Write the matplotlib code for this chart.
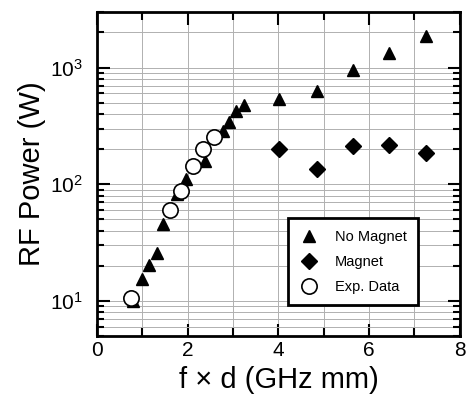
import numpy as np
import matplotlib.pyplot as plt
from matplotlib.ticker import LogLocator, MultipleLocator, NullFormatter

plt.rcParams['font.family'] = ['Liberation Sans', 'DejaVu Sans']

# No magnet (simulation)
nomag_x = [0.80, 0.99, 1.15, 1.32, 1.45, 1.76, 1.96, 2.38, 2.78, 2.91, 3.06, 3.24,
           4.01, 4.85, 5.64, 6.43, 7.25]
nomag_y = [10.0, 15.4, 20.3, 25.7, 45.5, 82, 110, 158, 284, 339, 421, 473,
           533, 635, 961, 1343, 1875]

# Magnet (simulation)
mag_x = [4.01, 4.85, 5.64, 6.43, 7.25]
mag_y = [200, 134, 211, 215, 184]

# Experimental data
exp_x = [0.75, 1.61, 1.85, 2.11, 2.33, 2.58]
exp_y = [10.6, 60, 87, 143, 200, 253]

fig = plt.figure(figsize=(4.74, 3.95), dpi=100)
ax = fig.add_axes([0.205, 0.149, 0.765, 0.821])

ax.plot(nomag_x, nomag_y, '^', color='black', ms=9, label='No Magnet', zorder=3)
ax.plot(mag_x, mag_y, 'D', color='black', ms=8, label='Magnet', zorder=3)
ax.plot(exp_x, exp_y, 'o', mfc='white', mec='black', mew=1.2, ms=11,
        label='Exp. Data', zorder=4)

ax.set_yscale('log')
ax.set_xlim(0, 8)
ax.set_ylim(5, 3000)
ax.xaxis.set_major_locator(MultipleLocator(2))
ax.xaxis.set_minor_locator(MultipleLocator(1))
ax.yaxis.set_major_locator(LogLocator(base=10))
ax.yaxis.set_minor_locator(LogLocator(base=10, subs=np.arange(2, 10)))
ax.yaxis.set_minor_formatter(NullFormatter())

ax.grid(True, which='both', color='#b0b0b0', lw=0.7)
ax.set_axisbelow(True)
for s in ax.spines.values():
    s.set_linewidth(2)
ax.tick_params(which='both', direction='in', top=True, right=True, width=1.5,
               labelsize=15)
ax.tick_params(which='major', length=9)
ax.tick_params(which='minor', length=5)
ax.tick_params(axis='x', which='minor', length=6)
ax.tick_params(axis='y', which='major', pad=10)

ax.set_xlabel('f × d (GHz mm)', fontsize=21, labelpad=4)
ax.set_ylabel('RF Power (W)', fontsize=21, labelpad=3)

leg = ax.legend(loc='upper left', bbox_to_anchor=(0.526, 0.364), fontsize=10.5,
                frameon=True, fancybox=False, framealpha=1, edgecolor='black',
                borderpad=0.8, labelspacing=0.75, handlelength=1.3,
                handletextpad=1.1, borderaxespad=0)
leg.get_frame().set_linewidth(2)

fig.savefig('out.png', dpi=100)
